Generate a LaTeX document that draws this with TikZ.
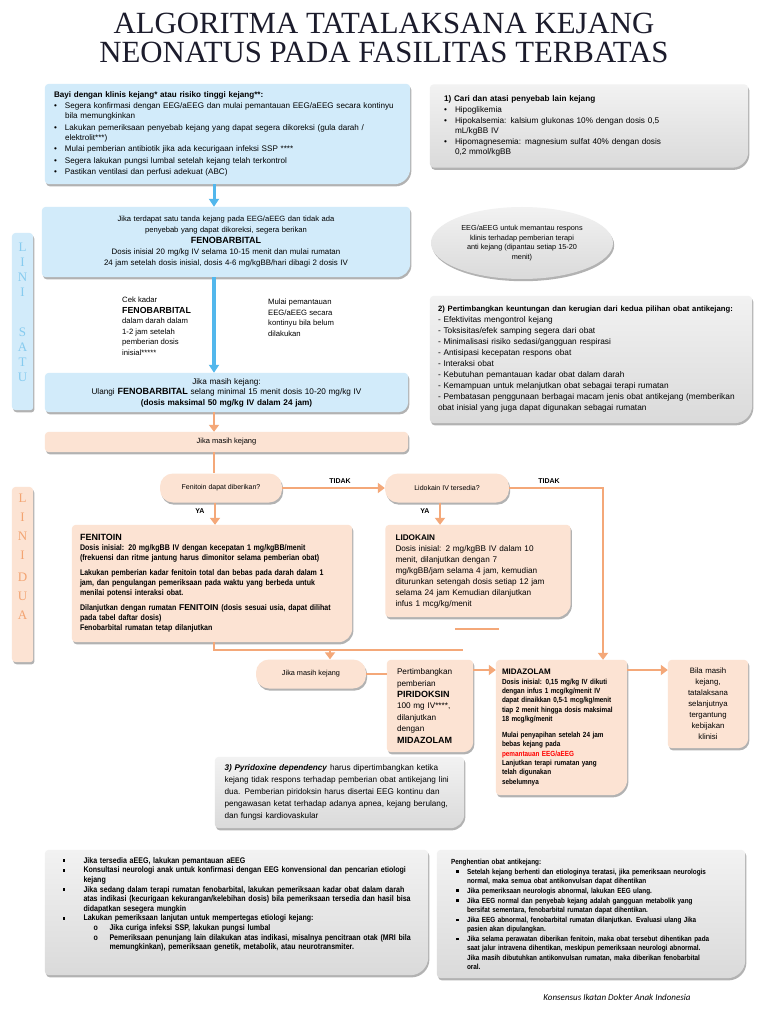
\documentclass[tikz,border=0pt]{standalone}
\usepackage{fontspec}
\setmainfont{Liberation Sans}
\newfontfamily\titlefont{Liberation Serif}
\newfontfamily\footfont{Carlito}
\newfontfamily\narrowfont[FakeStretch=0.86]{Liberation Sans}
\usetikzlibrary{arrows.meta,shadows,backgrounds,calc,shapes.geometric}
\pgfdeclarelayer{paper}
\pgfsetlayers{paper,background,main}
\definecolor{bluefillc}{HTML}{D2EBFA}
\definecolor{bluearr}{HTML}{52B7EC}
\definecolor{peachc}{HTML}{FCE3D3}
\definecolor{orangec}{HTML}{F4A879}
\definecolor{grayt}{HTML}{F2F2F2}
\definecolor{grayb}{HTML}{DADADA}
\definecolor{lini1c}{HTML}{86CBEF}
\definecolor{lini2c}{HTML}{F3A472}
\definecolor{titlec}{HTML}{1C1C2C}
\newcommand\fs[2]{\fontsize{#1}{#2}\selectfont}
\newcommand\bul[1]{\par\hangindent=11pt\hangafter=1\noindent\hbox to 11pt{\textbullet\hfil}#1\par}
\newcommand\sqb{\raisebox{1.3pt}{\rule{2.6pt}{2.6pt}}}
\newcommand\sbulA[1]{\par\hangindent=26pt\hangafter=1\noindent\hbox to 26pt{\hspace{5pt}\sqb\hfil}#1\par}
\newcommand\obulA[1]{\par\hangindent=52pt\hangafter=1\noindent\hbox to 52pt{\hspace{36pt}o\hfil}#1\par}
\newcommand\sbulB[1]{\par\hangindent=16pt\hangafter=1\noindent\hbox to 16pt{\hspace{5pt}\sqb\hfil}#1\par}
\newcommand\bgshape[3]{%
  \path[#2] ($(#1.north west)+(4pt,0pt)$) -- ($(#1.north east)+(-4pt,0pt)$)
    arc[start angle=90,end angle=0,radius=4pt]
    -- ($(#1.south east)+(0pt,#3)$)
    arc[start angle=0,end angle=-90,radius=#3]
    -- ($(#1.south west)+(4pt,0pt)$)
    arc[start angle=270,end angle=180,radius=4pt]
    -- ($(#1.north west)+(0pt,-4pt)$)
    arc[start angle=180,end angle=90,radius=4pt] -- cycle;}
\tikzset{
 boxtext/.style={inner sep=0pt, align=left, text=black},
 shadowed/.style={drop shadow={shadow xshift=1.2pt, shadow yshift=-2.2pt, opacity=0.3, fill=black}},
 bluebg/.style={fill=bluefillc, shadowed},
 peachbg/.style={fill=peachc, shadowed},
 graybg/.style={top color=grayt, bottom color=grayb, shadowed},
 pill/.style={fill=peachc, rounded corners=13pt, minimum height=29pt, inner sep=0pt, shadowed, font=\fs{7}{8}},
 lbl/.style={font=\fs{7}{8}\bfseries, inner sep=0pt},
 bluearrow/.style={draw=bluearr, line width=3pt, -{Triangle[width=10pt,length=8pt]}},
 orangeline/.style={draw=orangec, line width=2.6pt},
 orangearrow/.style={orangeline, -{Triangle[width=10pt,length=7pt]}},
 letters/.style={font=\titlefont\fs{13}{15}, align=center, inner sep=0pt},
}
\begin{document}
\begin{tikzpicture}[x=1pt,y=-1pt]
\useasboundingbox (0,0) rectangle (768,1024);
\begin{pgfonlayer}{paper}
\fill[white] (0,0) rectangle (768,1024);
\end{pgfonlayer}

% title
\node[font=\titlefont\fs{30.8}{32}, text=titlec, inner sep=0pt] (title1) at (384,23) {ALGORITMA TATALAKSANA KEJANG};
\node[font=\titlefont\fs{30.8}{32}, text=titlec, inner sep=0pt] (title2) at (384,52) {NEONATUS PADA FASILITAS TERBATAS};

% LINI SATU
\node[boxtext, minimum height=100pt, text width=347pt, minimum width=365pt, font=\fs{8.1}{10}] (top1) at (227.5,134) {\setlength\parskip{1.5pt}%
\textbf{Bayi dengan klinis kejang* atau risiko tinggi kejang**:}
\bul{Segera konfirmasi dengan EEG/aEEG dan mulai pemantauan EEG/aEEG secara kontinyu\newline bila memungkinkan}
\bul{Lakukan pemeriksaan penyebab kejang yang dapat segera dikoreksi (gula darah /\newline elektrolit***)}
\bul{Mulai pemberian antibiotik jika ada kecurigaan infeksi SSP ****}
\bul{Segera lakukan pungsi lumbal setelah kejang telah terkontrol}
\bul{Pastikan ventilasi dan perfusi adekuat (ABC)}};

\node[boxtext, minimum width=318pt, minimum height=83pt, text width=290pt, font=\fs{8.2}{10}] (cause) at (589,126) {\setlength\parskip{1pt}%
\textbf{1) Cari dan atasi penyebab lain kejang}
\bul{Hipoglikemia}
\bul{Hipokalsemia: kalsium glukonas 10\% dengan dosis 0,5\newline mL/kgBB IV}
\bul{Hipomagnesemia: magnesium sulfat 40\% dengan dosis\newline 0,2 mmol/kgBB}};

\node[boxtext, align=center, minimum width=368pt, minimum height=70pt, text width=350pt, font=\fs{7.6}{11}] (pheno) at (226,242) {Jika terdapat satu tanda kejang pada EEG/aEEG dan tidak ada\\ penyebab yang dapat dikoreksi, segera berikan\\ {\fs{9}{11}\bfseries FENOBARBITAL}\\ {\fs{7.9}{11}Dosis inisial 20 mg/kg IV selama 10-15 menit dan mulai rumatan}\\ {\fs{7.9}{11}24 jam setelah dosis inisial, dosis 4-6 mg/kgBB/hari dibagi 2 dosis IV}};

\node[ellipse, top color=grayt, bottom color=grayb, shadowed, minimum width=182pt, minimum height=72pt, inner sep=0pt, align=center, font=\fs{7.3}{9.5}] (eeg) at (522,243) {EEG/aEEG untuk memantau respons\\ klinis terhadap pemberian terapi\\ anti kejang (dipantau setiap 15-20\\ menit)};

\node[inner sep=0pt, minimum width=21pt, minimum height=177pt] (lini1) at (22.5,321.5) {};
\node[letters, text=lini1c] (lini1t) at (22.5,312) {L\\I\\N\\I\\[25pt]S\\A\\T\\U};

\node[anchor=north west, align=left, inner sep=0pt, font=\fs{7.7}{10.5}] (cek) at (122,297) {Cek kadar\\ {\fs{8.8}{10.5}\bfseries FENOBARBITAL}\\ dalam darah dalam\\ 1-2 jam setelah\\ pemberian dosis\\ inisial*****};
\node[anchor=north west, align=left, inner sep=0pt, font=\fs{7.7}{10.5}] (mulai) at (268,299) {Mulai pemantauan\\ EEG/aEEG secara\\ kontinyu bila belum\\ dilakukan};

\node[boxtext, align=center, minimum width=363pt, minimum height=39pt, text width=350pt, font=\fs{8.2}{10.5}] (reb) at (226.5,392.5) {Jika masih kejang:\\ Ulangi {\fs{9}{10.5}\bfseries FENOBARBITAL} selang minimal 15 menit dosis 10-20 mg/kg IV\\ \textbf{(dosis maksimal 50 mg/kg IV dalam 24 jam)}};

\node[boxtext, minimum width=322pt, minimum height=127pt, text width=306pt, font=\fs{8.3}{11}] (benefit) at (591,359.5) {{\fs{7.7}{11}\bfseries 2) Pertimbangkan keuntungan dan kerugian dari kedua pilihan obat antikejang:}\\
- Efektivitas mengontrol kejang\\
- Toksisitas/efek samping segera dari obat\\
- Minimalisasi risiko sedasi/gangguan respirasi\\
- Antisipasi kecepatan respons obat\\
- Interaksi obat\\
- Kebutuhan pemantauan kadar obat dalam darah\\
- Kemampuan untuk melanjutkan obat sebagai terapi rumatan\\
- Pembatasan penggunaan berbagai macam jenis obat antikejang (memberikan\\
obat inisial yang juga dapat digunakan sebagai rumatan};

\node[boxtext, align=center, minimum width=363pt, minimum height=20pt, font=\fs{7.5}{9}] (jmk1) at (226.5,442) {Jika masih kejang};

% LINI DUA
\node[inner sep=0pt, minimum width=21pt, minimum height=175pt] (lini2) at (22.5,574.5) {};
\node[letters, font=\titlefont\fs{13}{19}, text=lini2c] (lini2t) at (22.5,557) {L\\I\\N\\I\\[3pt]D\\U\\A};

\node[pill, minimum width=122pt] (dec1) at (221,488) {Fenitoin dapat diberikan?};
\node[pill, minimum width=124pt] (dec2) at (447,488) {Lidokain IV tersedia?};

\node[boxtext, minimum width=280pt, minimum height=117pt, text width=264pt, font=\narrowfont\bfseries\fs{8.2}{10}] (fen) at (212,583.5) {{\rmfamily\bfseries\fs{9}{10}FENITOIN}\\
Dosis inisial: 20 mg/kgBB IV dengan kecepatan 1 mg/kgBB/menit\\
(frekuensi dan ritme jantung harus dimonitor selama pemberian obat)\\[5pt]
Lakukan pemberian kadar fenitoin total dan bebas pada darah dalam 1\\
jam, dan pengulangan pemeriksaan pada waktu yang berbeda untuk\\
menilai potensi interaksi obat.\\[5pt]
Dilanjutkan dengan rumatan {\rmfamily\bfseries\fs{8.5}{10}FENITOIN} (dosis sesuai usia, dapat dilihat\\
pada tabel daftar dosis)\\
Fenobarbital rumatan tetap dilanjutkan};

\node[boxtext, minimum width=185pt, minimum height=92pt, text width=165pt, font=\fs{8.2}{11}] (lido) at (478,571) {\textbf{LIDOKAIN}\\ Dosis inisial: 2 mg/kgBB IV dalam 10\\ menit, dilanjutkan dengan 7\\ mg/kgBB/jam selama 4 jam, kemudian\\ diturunkan setengah dosis setiap 12 jam\\ selama 24 jam Kemudian dilanjutkan\\ infus 1 mcg/kg/menit};

\node[pill, minimum width=110pt, font=\fs{7.3}{8}] (jmk2) at (311,674) {Jika masih kejang};

\node[boxtext, minimum width=86pt, minimum height=92pt, text width=66pt, font=\fs{8.2}{11.4}] (pyr) at (430,706) {Pertimbangkan\\ pemberian\\ {\fs{9}{11.4}\bfseries PIRIDOKSIN}\\ 100 mg IV****,\\ dilanjutkan\\ dengan\\ {\fs{9}{11.4}\bfseries MIDAZOLAM}};

\node[boxtext, minimum width=131pt, minimum height=135pt, text width=119pt, font=\narrowfont\bfseries\fs{7.4}{9.3}] (mid) at (561.5,727.5) {\hyphenpenalty=10000 {\rmfamily\bfseries\fs{8}{9.3}MIDAZOLAM}\\ Dosis inisial: 0,15 mg/kg IV dikuti\\ dengan infus 1 mcg/kg/menit IV\\ dapat dinaikkan 0,5-1 mcg/kg/menit\\ tiap 2 menit hingga dosis maksimal\\ 18 mcg/kg/menit\\[7pt] Mulai penyapihan setelah 24 jam\\ bebas kejang pada\\ \textcolor{red}{pemantauan EEG/aEEG}\\ Lanjutkan terapi rumatan yang\\ telah digunakan\\ sebelumnya};

\node[boxtext, align=center, minimum width=80pt, minimum height=88pt, text width=76pt, font=\fs{7.8}{11}] (bila) at (708,704) {Bila masih\\ kejang,\\ tatalaksana\\ selanjutnya\\ tergantung\\ kebijakan\\ klinisi};

\node[boxtext, minimum width=249pt, minimum height=71pt, text width=230pt, font=\fs{8.2}{12}] (pnote) at (339.5,792.5) {\textbf{\textit{3) Pyridoxine dependency}} harus dipertimbangkan ketika\\ kejang tidak respons terhadap pemberian obat antikejang lini\\ dua. Pemberian piridoksin harus disertai EEG kontinu dan\\ pengawasan ketat terhadap adanya apnea, kejang berulang,\\ dan fungsi kardiovaskular};

% bottom notes
\node[boxtext, minimum width=383pt, minimum height=125pt, text width=358pt, font=\narrowfont\bfseries\fs{8.2}{9.6}] (bl) at (236.5,912.5) {%
\sbulA{Jika tersedia aEEG, lakukan pemantauan aEEG}
\sbulA{Konsultasi neurologi anak untuk konfirmasi dengan EEG konvensional dan pencarian etiologi\newline kejang}
\sbulA{Jika sedang dalam terapi rumatan fenobarbital, lakukan pemeriksaan kadar obat dalam darah\newline atas indikasi (kecurigaan kekurangan/kelebihan dosis) bila pemeriksaan tersedia dan hasil bisa\newline didapatkan sesegera mungkin}
\sbulA{Lakukan pemeriksaan lanjutan untuk mempertegas etiologi kejang:}
\obulA{Jika curiga infeksi SSP, lakukan pungsi lumbal}
\obulA{Pemeriksaan penunjang lain dilakukan atas indikasi, misalnya pencitraan otak (MRI bila\newline memungkinkan), pemeriksaan genetik, metabolik, atau neurotransmiter.}
\vspace*{20pt}};

\node[boxtext, minimum width=308pt, minimum height=128pt, text width=280pt, font=\narrowfont\bfseries\fs{7.4}{9.2}] (br) at (591,914) {\setlength\parskip{0.8pt}%
Penghentian obat antikejang:
\sbulB{Setelah kejang berhenti dan etiologinya teratasi, jika pemeriksaan neurologis\newline normal, maka semua obat antikonvulsan dapat dihentikan}
\sbulB{Jika pemeriksaan neurologis abnormal, lakukan EEG ulang.}
\sbulB{Jika EEG normal dan penyebab kejang adalah gangguan metabolik yang\newline bersifat sementara, fenobarbital rumatan dapat dihentikan.}
\sbulB{Jika EEG abnormal, fenobarbital rumatan dilanjutkan. Evaluasi ulang Jika\newline pasien akan dipulangkan.}
\sbulB{Jika selama perawatan diberikan fenitoin, maka obat tersebut dihentikan pada\newline saat jalur intravena dihentikan, meskipun pemeriksaan neurologi abnormal.\newline Jika masih dibutuhkan antikonvulsan rumatan, maka diberikan fenobarbital\newline oral.}};

\node[font=\footfont\itshape\fs{9}{10}, inner sep=0pt] (foot) at (617,997) {Konsensus Ikatan Dokter Anak Indonesia};

% connectors
\coordinate (bax) at (214,0);
\draw[bluearrow] (top1.south -| bax) -- (pheno.north -| bax);
\draw[bluearrow, line width=4pt] (pheno.south -| bax) -- (reb.north -| bax);
\draw[orangearrow] (reb.south -| bax) -- (jmk1.north -| bax);
\draw[orangeline] (jmk1.south -| bax) -- (dec1.north -| bax);

\draw[orangearrow] (dec1.east) -- (dec2.west);
\node[lbl] (t1) at (340,481) {TIDAK};
\coordinate (rx) at (603,0);
\draw[orangearrow] (dec2.east) -| (mid.north -| rx);
\node[lbl] (t2) at (549,481) {TIDAK};

\coordinate (yax1) at (215,0);
\draw[orangearrow] (dec1.south -| yax1) -- (fen.north -| yax1);
\node[lbl] (ya1) at (200,511) {YA};
\coordinate (yax2) at (440,0);
\draw[orangearrow] (dec2.south -| yax2) -- (lido.north -| yax2);
\node[lbl] (ya2) at (425,511) {YA};

\coordinate (s1) at (455,629);
\coordinate (s2) at (499,629);
\draw[orangeline] (s1) -- (s2);

\coordinate (junc) at (463,650);
\draw[orangeline] (fen.south -| bax) |- (junc);
\coordinate (jax) at (330,0);
\draw[orangearrow] (junc -| jax) -- (jmk2.north -| jax);
\draw[orangeline] (jmk2.east) -- (jmk2.east -| pyr.west);
\coordinate (pmy) at (0,670);
\draw[orangearrow] (pyr.east |- pmy) -- (mid.west |- pmy);
\draw[orangearrow] (mid.east |- pmy) -- (bila.west |- pmy);

\begin{scope}[on background layer]
 \bgshape{top1}{bluebg}{16pt}
 \bgshape{pheno}{bluebg}{14pt}
 \bgshape{reb}{bluebg}{10pt}
 \bgshape{lini1}{bluebg}{3pt}
 \bgshape{cause}{graybg}{16pt}
 \bgshape{benefit}{graybg}{18pt}
 \bgshape{jmk1}{peachbg}{6pt}
 \bgshape{lini2}{peachbg}{3pt}
 \bgshape{fen}{peachbg}{14pt}
 \bgshape{lido}{peachbg}{14pt}
 \bgshape{pyr}{peachbg}{10pt}
 \bgshape{mid}{peachbg}{16pt}
 \bgshape{bila}{peachbg}{10pt}
 \bgshape{pnote}{graybg}{14pt}
 \bgshape{bl}{graybg}{18pt}
 \bgshape{br}{graybg}{18pt}
\end{scope}
\end{tikzpicture}
\end{document}
